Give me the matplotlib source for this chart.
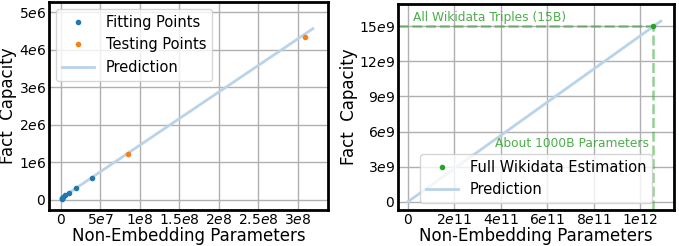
import matplotlib
matplotlib.use('Agg')
import matplotlib.pyplot as plt
import numpy as np

# точки для подгонки и проверки (левый график)
fit_x = [1.0e6, 2.0e6, 3.0e6, 5.0e6, 1.05e7, 1.94e7, 3.9e7]
fit_y = [3.0e4, 6.0e4, 8.5e4, 1.2e5, 1.95e5, 3.3e5, 5.8e5]
test_x = [8.5e7, 3.09e8]
test_y = [1.23e6, 4.34e6]

# прямая предсказания
slope = 1.417e-2
intercept = 4.0e4
pred_x_left = [0, 3.19e8]
pred_x_right = [0, 1.089e12]

# оценка для всей Wikidata (правый график)
wiki_x = [1.056e12]
wiki_y = [15e9]

left_xticks = [0, 5e7, 1e8, 1.5e8, 2e8, 2.5e8, 3e8]
left_xlabels = ['$0$', '$5e7$', '$1e8$', '$1.5e8$', '$2e8$', '$2.5e8$', '$3e8$']
left_yticks = [0, 1e6, 2e6, 3e6, 4e6, 5e6]
left_ylabels = ['$0$', '$1e6$', '$2e6$', '$3e6$', '$4e6$', '$5e6$']
right_xticks = [0, 2e11, 4e11, 6e11, 8e11, 1e12]
right_xlabels = ['$0$', '$2e11$', '$4e11$', '$6e11$', '$8e11$', '$1e12$']
right_yticks = [0, 3e9, 6e9, 9e9, 12e9, 15e9]
right_ylabels = ['$0$', '$3e9$', '$6e9$', '$9e9$', '$12e9$', '$15e9$']

plt.rcParams['mathtext.fontset'] = 'dejavusans'

fig = plt.figure(figsize=(6.79, 2.46), dpi=100)
ax1 = fig.add_axes([0.072, 0.146, 0.411, 0.846])
ax2 = fig.add_axes([0.586, 0.146, 0.407, 0.838])

pred_color = '#b9d3e8'
green = '#2ca02c'

# левый график
ax1.plot(fit_x, fit_y, 'o', color='#1f77b4', markersize=3, label='Fitting Points', zorder=3)
ax1.plot(test_x, test_y, 'o', color='#ff7f0e', markersize=3, label='Testing Points', zorder=3)
px = np.array(pred_x_left)
ax1.plot(px, slope * px + intercept, color=pred_color, linewidth=2, label='Prediction')
ax1.set_xlim(-1.5e7, 3.38e8)
ax1.set_ylim(-0.27e6, 5.27e6)
ax1.set_xticks(left_xticks, left_xlabels)
ax1.set_yticks(left_yticks, left_ylabels)
ax1.set_xlabel('Non-Embedding Parameters', fontsize=12, labelpad=0)
ax1.set_ylabel('Fact  Capacity', fontsize=12, labelpad=1)
ax1.legend(loc='upper left', fontsize=10.5, handlelength=2.2)

# правый график
ax2.plot([-0.43e11, wiki_x[0]], [wiki_y[0], wiki_y[0]], '--', color=green, alpha=0.5, linewidth=1.8, dashes=(4, 1.5))
ax2.plot([wiki_x[0], wiki_x[0]], [-0.71e9, wiki_y[0]], '--', color=green, alpha=0.5, linewidth=1.8, dashes=(4, 1.5))
ax2.plot(wiki_x, wiki_y, 'o', color=green, markersize=3, label='Full Wikidata Estimation', zorder=3)
px = np.array(pred_x_right)
ax2.plot(px, slope * px, color=pred_color, linewidth=2, label='Prediction')
ax2.text(0.2e11, 15.4e9, 'All Wikidata Triples (15B)', color=green, alpha=0.85, fontsize=8.8)
ax2.text(1.04e12, 4.7e9, 'About 1000B Parameters', color=green, alpha=0.85, fontsize=8.8, ha='right')
ax2.set_xlim(-0.43e11, 1.147e12)
ax2.set_ylim(-0.71e9, 16.9e9)
ax2.set_xticks(right_xticks, right_xlabels)
ax2.set_yticks(right_yticks, right_ylabels)
ax2.set_xlabel('Non-Embedding Parameters', fontsize=12, labelpad=0)
ax2.set_ylabel('Fact  Capacity', fontsize=12, labelpad=1)
ax2.legend(loc='lower center', fontsize=10.5, handlelength=2.2)

for ax in (ax1, ax2):
    ax.grid(True, color='#b0b0b0', linewidth=1)
    ax.set_axisbelow(True)
    ax.tick_params(labelsize=10, length=0, pad=2)
    for s in ax.spines.values():
        s.set_linewidth(2)

fig.savefig('out.png', dpi=100)
